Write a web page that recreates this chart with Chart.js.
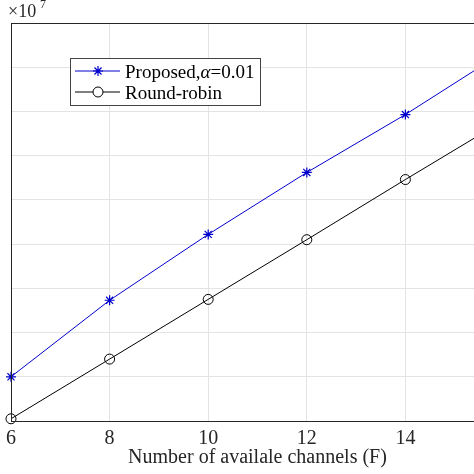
<!DOCTYPE html>
<html><head><script src="https://cdn.jsdelivr.net/npm/chart.js@4"></script>
<style>html,body{margin:0;padding:0;overflow:hidden;background:#fff}#w{width:520px;height:474px}</style></head>
<body><div id="w"><canvas id="c" width="520" height="474"></canvas></div>
<script>
const xValues=[6,8,10,12,14,16];
const proposed=[1.0,2.73,4.22,5.62,6.93,8.35];
const roundRobin=[0.05,1.4,2.75,4.1,5.46,6.8];
const xTicks=[6,8,10,12,14,16];
const F='"Liberation Serif", serif';
const deco={id:'deco',afterDraw(ch){const c=ch.ctx;const a=ch.chartArea;c.save();
c.strokeStyle='#262626';c.lineWidth=1;c.strokeRect(a.left+0.5,a.top+0.5,a.right-a.left,a.bottom-a.top);
c.fillStyle='#262626';c.font='18px '+F;c.textBaseline='alphabetic';c.fillText('\u00d710',8,17);c.font='12px '+F;c.fillText('7',40,8);
c.fillStyle='#fff';c.fillRect(70,58,190,47);c.strokeStyle='#444';c.strokeRect(70.5,58.5,190,47);
c.lineWidth=1;c.strokeStyle='#0000cc';c.beginPath();c.moveTo(75,71);c.lineTo(120,71);c.stroke();
star(c,98,71,'#0000cc');
c.strokeStyle='#000';c.beginPath();c.moveTo(75,92);c.lineTo(120,92);c.stroke();
c.fillStyle='#fff';c.beginPath();c.arc(98,92,5,0,7);c.fill();c.stroke();
c.fillStyle='#000';c.font='19px '+F;c.fillText('Proposed,',125,78);const w=c.measureText('Proposed,').width;
c.font='italic 19px '+F;c.fillText('\u03b1',125+w,78);const w2=c.measureText('\u03b1').width;c.font='19px '+F;c.fillText('=0.01',125+w+w2,78);
c.fillText('Round-robin',125,99);c.restore();}};
function star(c,x,y,col){c.save();c.strokeStyle=col;c.lineWidth=1.2;c.beginPath();for(let i=0;i<4;i++){const t=i*Math.PI/4;c.moveTo(x-5*Math.cos(t),y-5*Math.sin(t));c.lineTo(x+5*Math.cos(t),y+5*Math.sin(t));}c.stroke();c.restore();}
const starPts={id:'starPts',afterDatasetsDraw(ch){const m=ch.getDatasetMeta(0);m.data.forEach(p=>star(ch.ctx,p.x,p.y,'#0000cc'));}};
new Chart(document.getElementById('c'),{type:'line',
data:{datasets:[
{data:xValues.map((x,i)=>({x,y:proposed[i]})),borderColor:'#0000cc',borderWidth:1,pointRadius:0,tension:0},
{data:xValues.map((x,i)=>({x,y:roundRobin[i]})),borderColor:'#000',borderWidth:1,pointRadius:5,pointBackgroundColor:'rgba(255,255,255,0)',pointBorderColor:'#000',pointBorderWidth:1,tension:0}]},
options:{responsive:false,animation:false,clip:false,layout:{padding:{top:23,right:9,left:6,bottom:0}},
plugins:{legend:{display:false},tooltip:{enabled:false}},
scales:{x:{type:'linear',min:6,max:16,afterBuildTicks(s){s.ticks=xTicks.map(v=>({value:v}));},afterFit(s){s.height=53;},
grid:{color:'#e3e3e3',drawTicks:false},border:{display:false},
ticks:{color:'#262626',font:{family:F,size:20},padding:6},
title:{display:true,text:'Number of availale channels (F)',color:'#262626',font:{family:F,size:20},padding:{top:0}}},
y:{min:0,max:9,ticks:{display:false,stepSize:1},afterFit(s){s.width=0;},grid:{color:'#e3e3e3',drawTicks:false},border:{display:false}}}},
plugins:[deco,starPts]});
</script></body></html>
